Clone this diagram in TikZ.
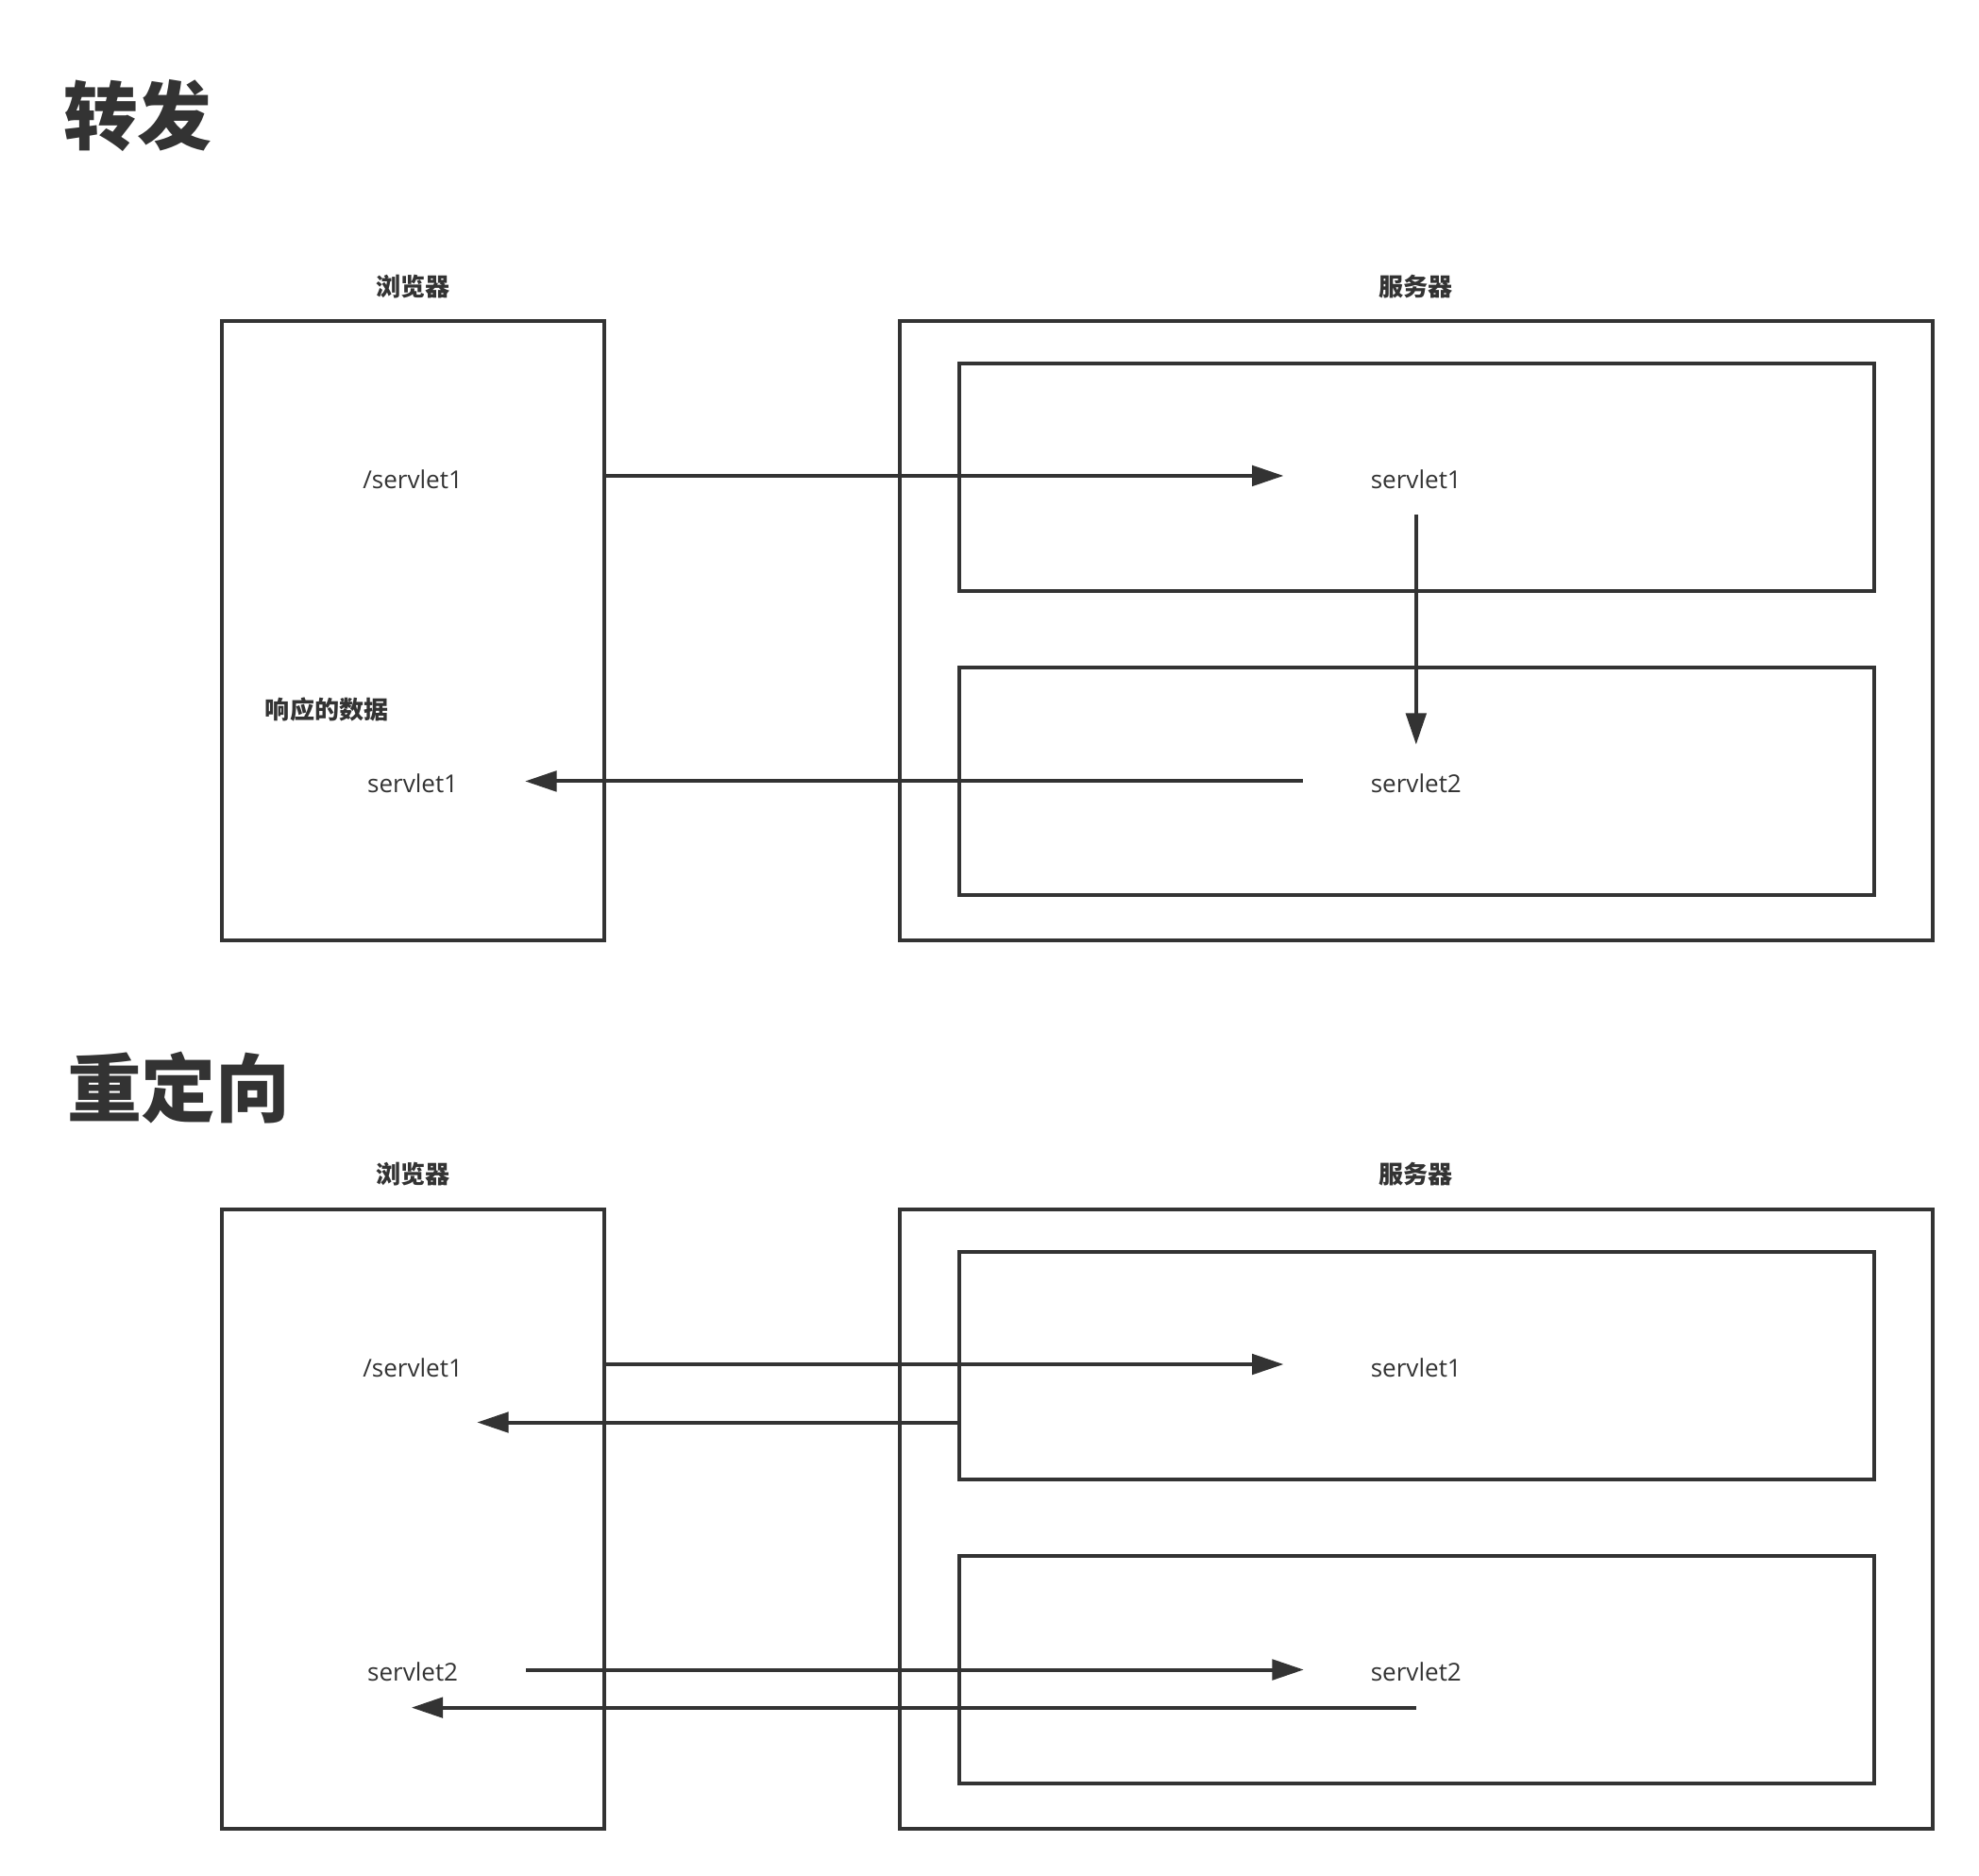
\documentclass[tikz,border=0pt]{standalone}
\usepackage{fontspec}
\setmainfont{Noto Sans CJK SC}
\newfontfamily\latinfont{Open Sans}
\usetikzlibrary{arrows.meta,positioning}
\definecolor{ink}{HTML}{333333}
\tikzset{
  box/.style={draw=ink, line width=3pt, inner sep=0pt, outer sep=0pt, anchor=north west},
  heading/.style={text=ink, font=\bfseries\fontsize{59}{60}\selectfont, anchor=west, inner sep=0pt},
  side/.style={text=ink, font=\bfseries\fontsize{19.5}{22}\selectfont, inner sep=0pt},
  page/.style={text=ink, font=\latinfont\fontsize{19.5}{22}\selectfont, inner sep=0pt},
  arr/.style={draw=ink, line width=3pt, -{Triangle[length=25pt,width=16pt]}},
}
\begin{document}
\begin{tikzpicture}[x=1pt, y=-1pt]
    \useasboundingbox (0,0) rectangle (1568,1486);

    % 转发
    \node[heading] (titleFwd) at (50,92) {转发};
    \node[side] (browserFwdLabel) at (327,227) {浏览器};
    \node[side] (serverFwdLabel) at (1122,227) {服务器};
    \node[box, minimum width=303pt, minimum height=491pt] (browserFwd) at (176,254) {};
    \node[box, minimum width=818pt, minimum height=491pt] (serverFwd) at (713,254) {};
    \node[box, minimum width=725pt, minimum height=180pt] (slotFwdA) at (760,288) {};
    \node[box, minimum width=725pt, minimum height=180pt] (slotFwdB) at (760,529) {};

    \node[page] (reqFwd) at (327,380) {/servlet1};
    \node[page] (srvFwdA) at (1122,380) {servlet1};
    \node[page] (srvFwdB) at (1122,621) {servlet2};
    \node[side, anchor=west] (dataFwd) at (210,562) {响应的数据};
    \node[page] (respFwd) at (327,621) {servlet1};

    \coordinate (fwdHit) at (1017,377);
    \coordinate (fwdTop) at (1122,408);
    \coordinate (fwdDown) at (1122,590);
    \coordinate (fwdOut) at (1032,619);
    \coordinate (fwdBack) at (416,619);

    \draw[arr] (browserFwd.east |- fwdHit) -- (fwdHit);
    \draw[arr] (fwdTop) -- (fwdDown);
    \draw[arr] (fwdOut) -- (fwdBack);

    % 重定向
    \node[heading] (titleRed) at (53,862) {重定向};
    \node[side] (browserRedLabel) at (327,930) {浏览器};
    \node[side] (serverRedLabel) at (1122,930) {服务器};
    \node[box, minimum width=303pt, minimum height=491pt] (browserRed) at (176,958) {};
    \node[box, minimum width=818pt, minimum height=491pt] (serverRed) at (713,958) {};
    \node[box, minimum width=725pt, minimum height=180pt] (slotRedA) at (760,992) {};
    \node[box, minimum width=725pt, minimum height=180pt] (slotRedB) at (760,1233) {};

    \node[page] (reqRedA) at (327,1084) {/servlet1};
    \node[page] (srvRedA) at (1122,1084) {servlet1};
    \node[page] (reqRedB) at (327,1325) {servlet2};
    \node[page] (srvRedB) at (1122,1325) {servlet2};

    \coordinate (redHitA) at (1017,1081);
    \coordinate (redBackA) at (378,1127);
    \coordinate (redOutB) at (417,1323);
    \coordinate (redHitB) at (1033,1323);
    \coordinate (redOutC) at (1122,1353);
    \coordinate (redBackB) at (326,1353);

    \draw[arr] (browserRed.east |- redHitA) -- (redHitA);
    \draw[arr] (slotRedA.west |- redBackA) -- (redBackA);
    \draw[arr] (redOutB) -- (redHitB);
    \draw[arr] (redOutC) -- (redBackB);
\end{tikzpicture}
\end{document}
